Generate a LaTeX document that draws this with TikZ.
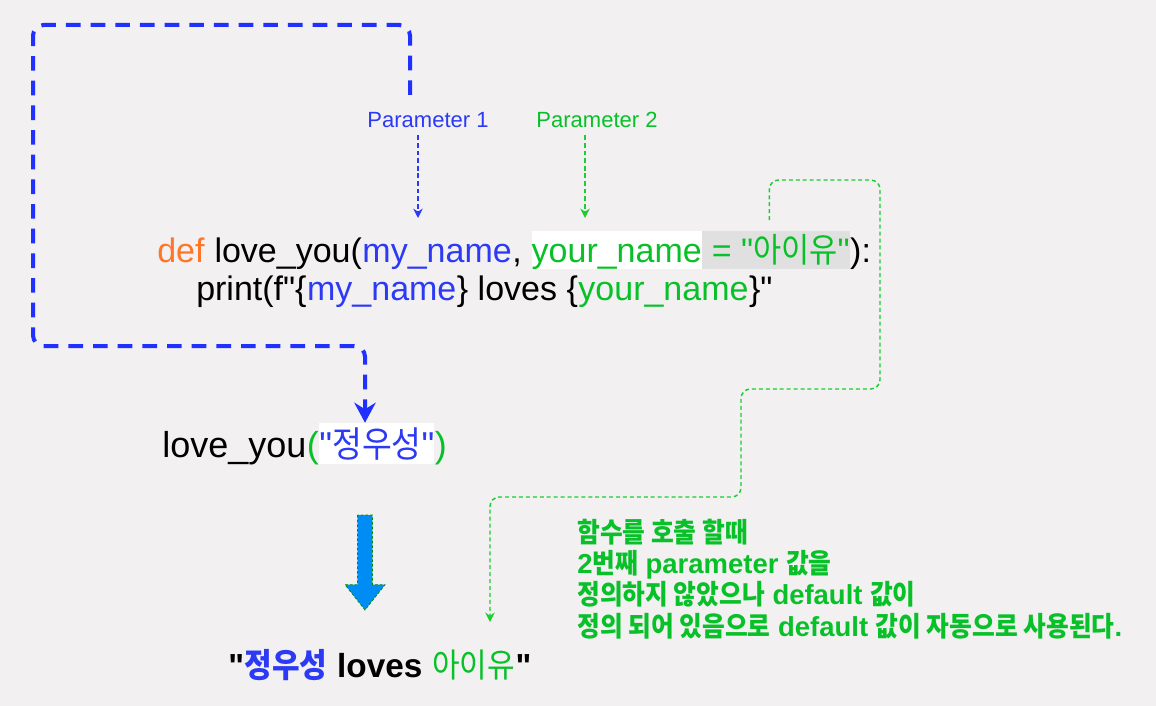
\documentclass[tikz,border=0pt]{standalone}
\usepackage{fontspec}
\newfontfamily\lib{Liberation Sans}
\newfontfamily\kr[FakeStretch=0.9]{Noto Sans CJK KR}
\usetikzlibrary{arrows.meta}
\definecolor{bgcol}{RGB}{242,240,241}
\definecolor{kworange}{RGB}{255,118,40}
\definecolor{argblue}{RGB}{44,58,245}
\definecolor{loopblue}{RGB}{32,48,255}
\definecolor{arggreen}{RGB}{8,192,40}
\definecolor{dotgreen}{RGB}{30,205,50}
\definecolor{fatblue}{RGB}{0,140,245}
\definecolor{hlgray}{RGB}{224,224,224}
\tikzset{
  code/.style={inner sep=0pt, anchor=base west, font=\lib\fontsize{25.5}{30}\selectfont},
  callcode/.style={code, font=\lib\fontsize{27}{31}\selectfont},
  hlbox/.style={code, text height=23.25pt, text depth=5.2pt},
  plabel/.style={inner sep=0pt, anchor=base, font=\lib\fontsize{16.5}{20}\selectfont},
  result/.style={inner sep=0pt, anchor=base west, font=\lib\fontsize{25}{29}\selectfont\bfseries},
  parrow/.style={line width=1.1pt, dash pattern=on 3.5pt off 2.2pt, -{Stealth[length=7pt,width=7pt]}},
  bigloop/.style={loopblue, line width=3pt, dash pattern=on 11pt off 7.5pt, rounded corners=8pt},
  greenpath/.style={dotgreen, line width=1.1pt, dash pattern=on 3pt off 2.2pt, rounded corners=7pt}
}
\begin{document}
\begin{tikzpicture}[x=0.75pt,y=-0.75pt]
  \fill[bgcol] (0,0) rectangle (1156,706);
  \node[plabel,text=argblue] (p1) at (428,128) {Parameter 1};
  \node[plabel,text=arggreen] (p2) at (597,128) {Parameter 2};
  \node[code,text=kworange] (kwdef) at (157,262) {def};
  \node[code] (fname) at (kwdef.base east) {\ love\_you(};
  \node[code,text=argblue] (myname) at (fname.base east) {my\_name};
  \node[code] (comma) at (myname.base east) {,\ \null};
  \node[hlbox,fill=white,text=arggreen] (yname) at (comma.base east) {your\_name};
  \node[hlbox,fill=hlgray,text=arggreen] (ydefault) at (yname.base east) {\ = "{\kr 아이유}"};
  \node[code] (sigend) at (ydefault.base east) {):};
  \node[code] (pr) at (196,300) {print(f"\{};
  \node[code,text=argblue] (prme) at (pr.base east) {my\_name};
  \node[code] (prloves) at (prme.base east) {\}\ loves\ \{};
  \node[code,text=arggreen] (pryou) at (prloves.base east) {your\_name};
  \node[code] (prend) at (pryou.base east) {\}"};
  \node[callcode] (call) at (162,457) {love\_you};
  \node[callcode,text=arggreen] (callo) at (call.base east) {(};
  \node[callcode,fill=white,text=argblue,text height=25.5pt,text depth=5.3pt] (arg) at (callo.base east) {"{\kr 정우성}"};
  \node[callcode,text=arggreen] (callc) at (arg.base east) {)};
  \node[result] (resq1) at (228,677) {"};
  \node[result,text=argblue] (resme) at (resq1.base east) {\kr 정우성};
  \node[result] (resloves) at (resme.base east) {\ loves\ \null};
  \node[result,text=arggreen,font=\lib\fontsize{25}{29}\selectfont] (resyou) at (resloves.base east) {\kr 아이유};
  \node[result] (resq2) at (resyou.base east) {"};
  \node[anchor=north west, inner sep=0pt, align=left, text=arggreen,
    font=\lib\fontsize{20.6}{23.4}\selectfont\bfseries] (note) at (577,519)
    {{\kr 함수를 호출 할때}\\
     2{\kr 번째} parameter {\kr 값을}\\
     {\kr 정의하지 않았으나} default {\kr 값이}\\
     {\kr 정의 되어 있음으로} default {\kr 값이 자동으로 사용된다}.};
  \coordinate (loopstart) at (410,95);
  \draw[bigloop, -{Stealth[length=15pt,width=16pt]}] (loopstart) -- (410,25) -- (33,25) -- (33,346) -- (365,346) -- (365,0 |- arg.north);
  \draw[parrow,argblue] ([xshift=-7.5pt]p1.south) ++(0,7) -- ([xshift=-7.5pt]p1.south |- 0,218);
  \draw[parrow,dotgreen] ([xshift=-9pt]p2.south) ++(0,7) -- ([xshift=-9pt]p2.south |- 0,218);
  \draw[greenpath, -{Stealth[length=7pt,width=7pt]}, shorten <=8pt] ([xshift=-5pt]ydefault.north) -- ([xshift=-5pt]ydefault.north |- 0,180) -- (880,180) -- (880,389) -- (741,389) -- (741,497) -- (490,497) -- (490,622);
  \coordinate (fattop) at (365,515);
  \coordinate (fattip) at (365,610);
  \filldraw[fill=fatblue, draw=green!55!black, dash pattern=on 2pt off 1.5pt, line width=0.6pt]
    ([xshift=-5.6pt]fattop) -- ([xshift=-5.6pt,yshift=19pt]fattip) -- ([xshift=-15pt,yshift=19pt]fattip) -- (fattip)
    -- ([xshift=15pt,yshift=19pt]fattip) -- ([xshift=5.6pt,yshift=19pt]fattip) -- ([xshift=5.6pt]fattop) -- cycle;
\end{tikzpicture}
\end{document}
